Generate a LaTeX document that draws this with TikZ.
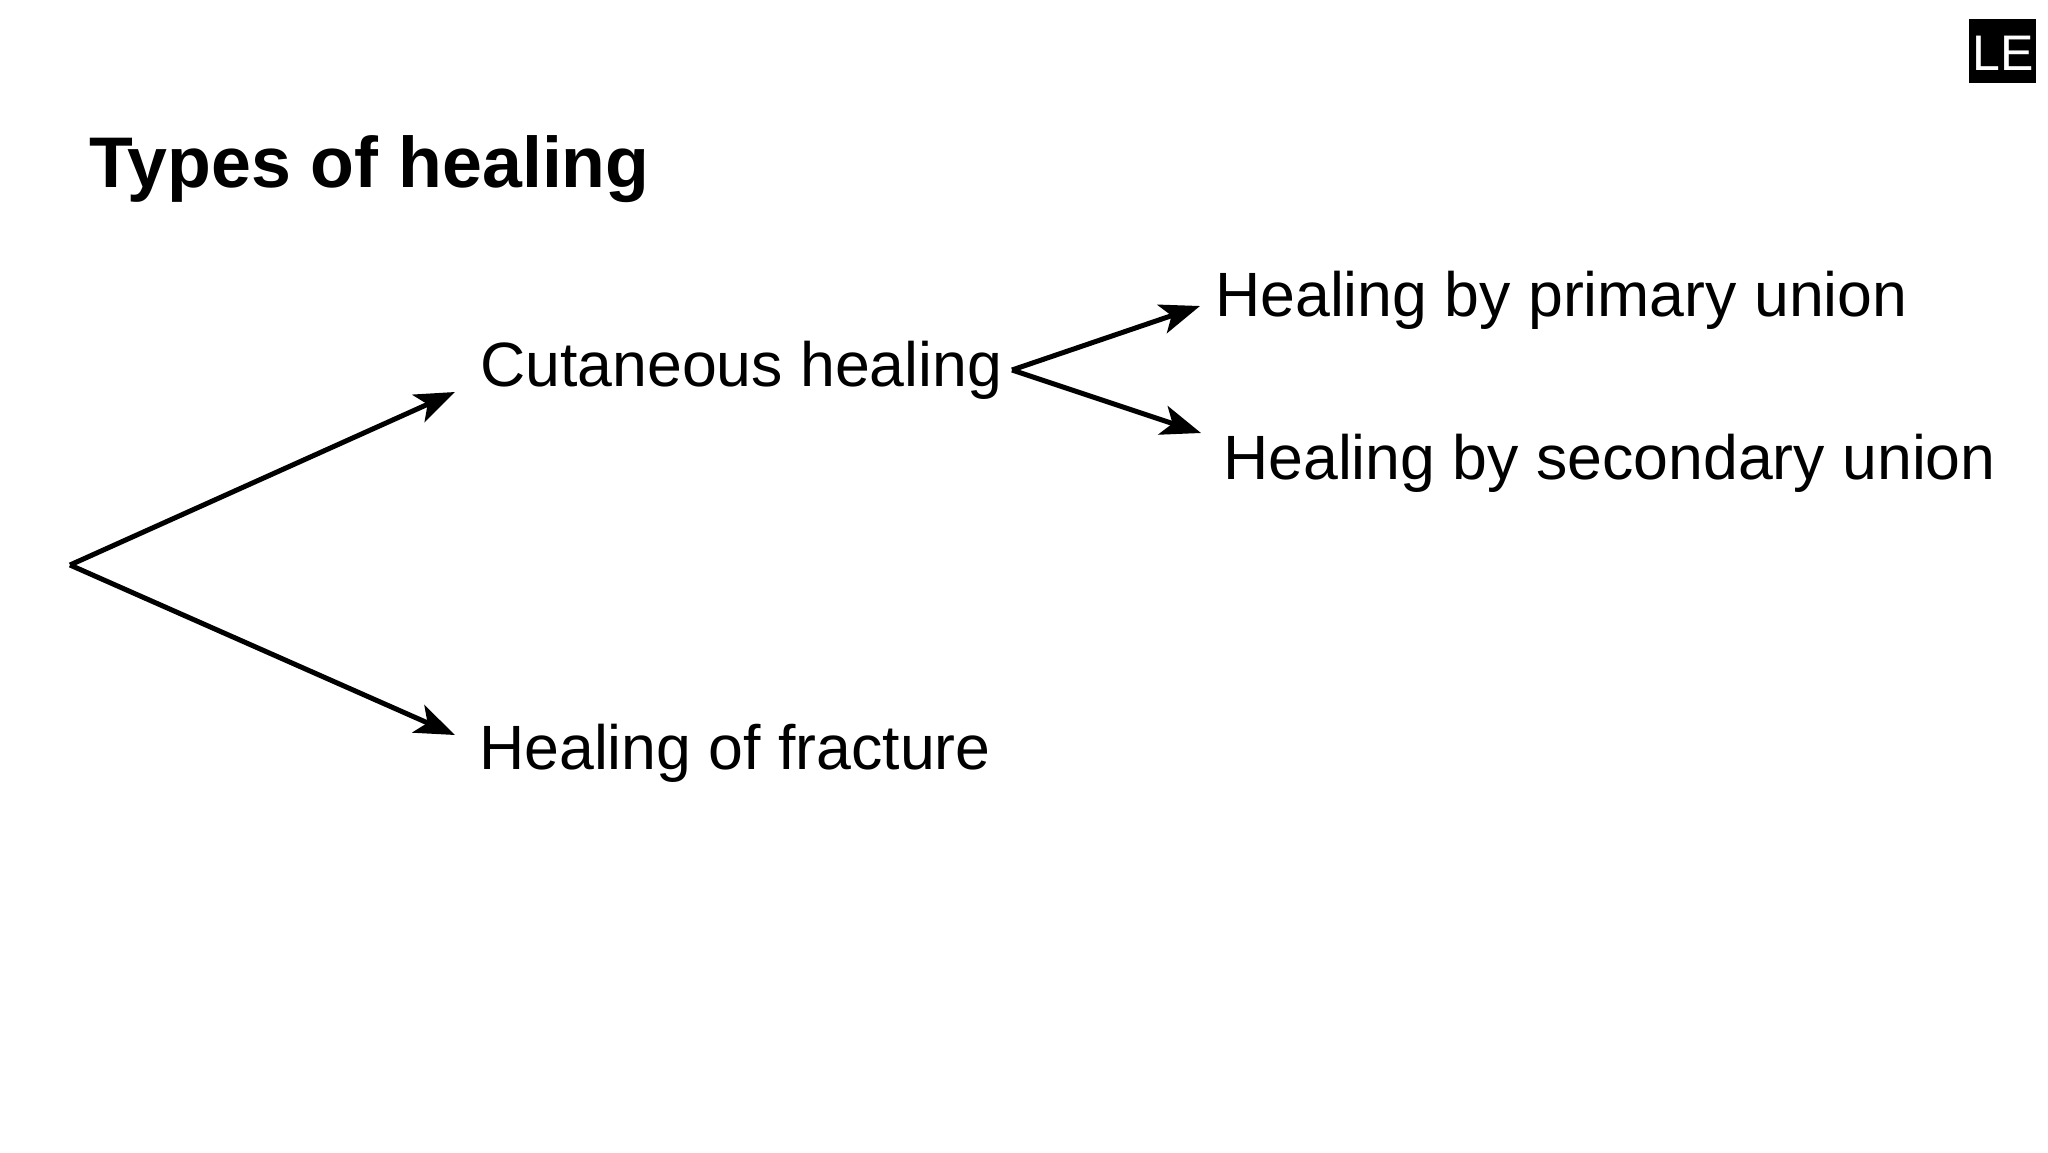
\documentclass[tikz,border=0pt]{standalone}
\usepackage{fontspec}
\setmainfont{Liberation Sans}
\usetikzlibrary{arrows.meta}
\begin{document}
\begin{tikzpicture}[x=1pt,y=-1pt,
  lbl/.style={inner sep=0pt, anchor=base west, font=\fontsize{62.6}{70}\selectfont},
  ttl/.style={inner sep=0pt, anchor=base west, font=\fontsize{71.7}{80}\selectfont\bfseries},
  conn/.style={line width=5pt, -{Stealth[length=40pt, width=30pt, inset=10pt]}}
]
\useasboundingbox[fill=white] (0,0) rectangle (2048,1152);
% logo
\node[fill=black, minimum width=67pt, minimum height=64pt, inner sep=0pt] (logo) at (2002.5,51) {};
\node[inner sep=0pt, anchor=base, text=white, font=\fontsize{50}{56}\selectfont] (logotxt) at (2003,70) {LE};
% title
\node[ttl] (title) at (89,187) {Types of healing};
% labels
\node[lbl] (cut) at (480,386) {Cutaneous healing};
\node[lbl] (frac) at (479,769) {Healing of fracture};
\node[lbl] (prim) at (1215,316) {Healing by primary union};
\node[lbl] (sec) at (1223,479) {Healing by secondary union};
% connector points
\coordinate (root) at (70,565);
\coordinate (tcut) at (455,392);
\coordinate (tfrac) at (455,735);
\coordinate (fork) at (1012,370);
\coordinate (tprim) at (1200,306);
\coordinate (tsec) at (1201,433);
\draw[conn] (root) -- (tcut);
\draw[conn] (root) -- (tfrac);
\draw[conn] (fork) -- (tprim);
\draw[conn] (fork) -- (tsec);
\end{tikzpicture}
\end{document}
